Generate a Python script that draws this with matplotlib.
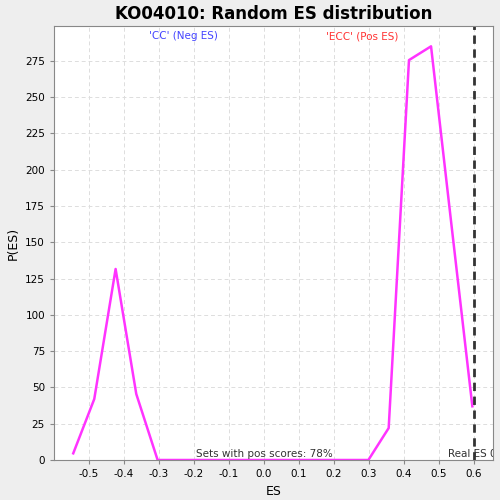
import matplotlib
matplotlib.use('Agg')
import matplotlib.pyplot as plt

es = [-0.545, -0.485, -0.424, -0.365, -0.304, -0.243, -0.183, -0.122, -0.062,
      -0.002, 0.058, 0.118, 0.179, 0.239, 0.298, 0.356, 0.414, 0.477, 0.537, 0.595]
pes = [4.6, 42, 131.6, 45.5, 0, 0, 0, 0, 0,
       0, 0, 0, 0, 0, 0, 22, 275.5, 285, 158.5, 37]
real_es = 0.6
pos_pct = 78
yticks = [0, 25, 50, 75, 100, 125, 150, 175, 200, 225, 250, 275]
xticks = [-0.5, -0.4, -0.3, -0.2, -0.1, 0.0, 0.1, 0.2, 0.3, 0.4, 0.5, 0.6]

fig = plt.figure(figsize=(5, 5), dpi=100, facecolor='#eeeeee')
ax = fig.add_axes([0.108, 0.08, 0.878, 0.868])
ax.set_facecolor('white')

ax.plot(es, pes, color='#ff33ff', lw=1.8)
ax.axvline(real_es, color='#333333', lw=2, ls=(0, (3, 2)))

ax.set_xlim(-0.6, 0.654)
ax.set_ylim(0, 299)
ax.set_xticks(xticks)
ax.set_xticklabels(['%.1f' % v for v in xticks])
ax.set_yticks(yticks)
ax.tick_params(labelsize=7.5, length=3, color='#888888')
ax.grid(True, color='#dddddd', ls=(0, (4, 3)), lw=0.7)
for s in ax.spines.values():
    s.set_color('#888888')

ax.set_title('KO04010: Random ES distribution', fontsize=12, fontweight='bold', pad=5)
ax.set_xlabel('ES', fontsize=9)
ax.set_ylabel('P(ES)', fontsize=9)

ax.text(-0.23, 292, "'CC' (Neg ES)", color='#4444ff', fontsize=7.5, ha='center', va='center')
ax.text(0.28, 292, "'ECC' (Pos ES)", color='#ff3333', fontsize=7.5, ha='center', va='center')
ax.text(0.0, 1, 'Sets with pos scores: %d%%' % pos_pct, color='#333333', fontsize=7.5,
        ha='center', va='bottom')
# the reference cuts this label off at the right edge of the plot
ax.text(0.525, 1, 'Real ES 0.6', color='#333333', fontsize=7.5, ha='left', va='bottom',
        clip_on=True)

fig.savefig('out.png', dpi=100, facecolor=fig.get_facecolor())
